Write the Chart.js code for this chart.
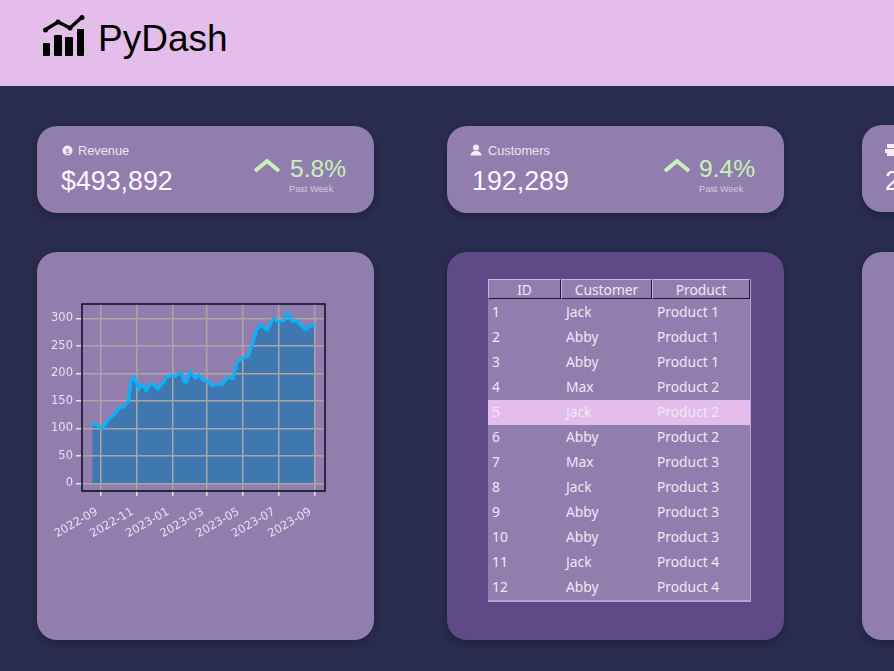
<!DOCTYPE html>
<html>
<head>
<meta charset="utf-8">
<title>PyDash</title>
<script src="https://cdn.jsdelivr.net/npm/chart.js@4/dist/chart.umd.min.js"></script>
<style>
html, body { margin: 0; padding: 0; width: 894px; height: 671px; overflow: hidden; background: #2a2d4f; font-family: "Liberation Sans", Arial, sans-serif; }
.abs { position: absolute; white-space: nowrap; }
#header { position: absolute; left: 0; top: 0; width: 894px; height: 86px; background: #e5bdeb; }
#title { left: 98px; top: 18px; font-size: 37px; line-height: 42px; color: #000; }
.card { position: absolute; background: #917dae; border-radius: 20px; box-shadow: 0 3px 8px rgba(15, 15, 35, .45); }
.stat-label { font-size: 12.8px; line-height: 14px; color: #eee5f5; }
.stat-value { font-size: 26.8px; line-height: 30px; color: #fbf8ff; }
.stat-change { font-size: 24.6px; line-height: 28px; color: #c9f2b8; }
.stat-note { font-size: 9.2px; line-height: 10px; color: #d8cbe6; }
#chartBox { position: absolute; left: 37px; top: 252px; width: 337px; height: 388px; }
#tableCard { background: #5f4a87; }
#grid { position: absolute; left: 488px; top: 279px; width: 263px; height: 323px; background: #917dae; border-right: 1px solid #b3a4dc; border-bottom: 2px solid #b3a4dc; box-sizing: border-box; font-family: "Noto Sans", sans-serif; font-size: 13.8px; color: #f0e8f6; overflow: hidden; }
.head { position: absolute; top: 0; height: 20px; line-height: 20px; text-align: center; box-sizing: border-box; border-top: 1px solid #c4b6e6; border-left: 1px solid #c4b6e6; border-right: 1px solid #1c1a30; border-bottom: 1px solid #1c1a30; }
.row { position: absolute; left: 0; width: 262px; height: 25px; line-height: 23px; }
.row span { position: absolute; top: 0; }
.row.on { background: #e5bdeb; }
</style>
</head>
<body>
<div id="header"></div>
<svg class="abs" style="left:43px;top:15px" width="42" height="42" viewBox="0 0 42 42">
  <polyline points="2,15 15,7 27,13 39,2" fill="none" stroke="#000" stroke-width="3.4"/>
  <circle cx="2.5" cy="15" r="2.5"/><circle cx="15" cy="7" r="2.5"/><circle cx="27" cy="13" r="2.5"/><circle cx="39" cy="2.5" r="2.5"/>
  <rect x="0" y="28" width="7" height="13" rx="1"/><rect x="11" y="20" width="8" height="21" rx="1"/>
  <rect x="22" y="22" width="8" height="19" rx="1"/><rect x="34" y="14" width="7" height="27" rx="1"/>
</svg>
<div id="title" class="abs">PyDash</div>

<div class="card" style="left:37px;top:126px;width:337px;height:87px"></div>
<svg class="abs" style="left:62px;top:145px" width="11" height="11"><circle cx="5.5" cy="5.5" r="5" fill="#f3edf8"/><text x="5.5" y="8.5" font-size="8" text-anchor="middle" fill="#917dae" font-family="Liberation Sans">$</text></svg>
<div class="abs stat-label" style="left:78px;top:144px">Revenue</div>
<div class="abs stat-value" style="left:61px;top:166px">$493,892</div>
<svg class="abs" style="left:252px;top:157px" width="30" height="18"><polyline points="3,14 15,4 27,14" fill="none" stroke="#c9f2b8" stroke-width="4"/></svg>
<div class="abs stat-change" style="left:290px;top:155px">5.8%</div>
<div class="abs stat-note" style="left:289px;top:184px">Past Week</div>

<div class="card" style="left:447px;top:126px;width:337px;height:87px"></div>
<svg class="abs" style="left:470px;top:144px" width="12" height="12"><circle cx="6" cy="3.5" r="3" fill="#f3edf8"/><path d="M0.5 11.5 C1 7.5 4 7 6 7 C8 7 11 7.5 11.5 11.5 Z" fill="#f3edf8"/></svg>
<div class="abs stat-label" style="left:488px;top:144px">Customers</div>
<div class="abs stat-value" style="left:472px;top:166px">192,289</div>
<svg class="abs" style="left:662px;top:157px" width="30" height="18"><polyline points="3,14 15,4 27,14" fill="none" stroke="#c9f2b8" stroke-width="4"/></svg>
<div class="abs stat-change" style="left:699px;top:155px">9.4%</div>
<div class="abs stat-note" style="left:699px;top:184px">Past Week</div>

<div class="card" style="left:862px;top:125px;width:337px;height:87px"></div>
<svg class="abs" style="left:885px;top:144px" width="9" height="12"><rect x="2" y="0" width="7" height="4" fill="#f3edf8"/><rect x="0" y="5" width="9" height="4" fill="#f3edf8"/><rect x="2" y="9" width="7" height="3" fill="#f3edf8"/></svg>
<div class="abs stat-value" style="left:885px;top:166px">2</div>

<div class="card" style="left:37px;top:252px;width:337px;height:388px"></div>
<div id="chartBox"><canvas id="salesChart"></canvas></div>

<div class="card" id="tableCard" style="left:447px;top:252px;width:337px;height:388px"></div>
<div id="grid"></div>

<div class="card" style="left:862px;top:252px;width:337px;height:388px"></div>

<script>
// values
const dates = [
  '2022-08-17','2022-08-24','2022-08-31','2022-09-06','2022-09-12','2022-09-19','2022-09-27','2022-10-03','2022-10-10',
  '2022-10-18','2022-10-22','2022-10-28','2022-11-04','2022-11-10','2022-11-17','2022-11-24','2022-11-29','2022-12-07',
  '2022-12-14','2022-12-22','2022-12-30','2023-01-05','2023-01-12','2023-01-17','2023-01-21','2023-01-25','2023-02-01',
  '2023-02-09','2023-02-15','2023-02-23','2023-03-03','2023-03-10','2023-03-18','2023-03-27','2023-04-06','2023-04-15',
  '2023-04-21','2023-05-02','2023-05-11','2023-05-18','2023-05-25','2023-06-01','2023-06-12','2023-06-22','2023-07-01',
  '2023-07-11','2023-07-17','2023-07-25','2023-07-31','2023-08-08','2023-08-17','2023-08-24','2023-08-31'
];
const sales = [
  106,107,101,102,114,120,129,138,139,
  149,184,194,170,180,168,180,180,171,
  180,192,196,194,199,199,184,184,203,
  191,197,187,185,177,180,180,193,190,
  220,228,232,254,279,288,278,299,294,
  296,310,294,296,288,279,286,287
];
const xTickLabels = ['2022-09','2022-11','2023-01','2023-03','2023-05','2023-07','2023-09'];
const yTickValues = [0,50,100,150,200,250,300];

const rowIds = [1,2,3,4,5,6,7,8,9,10,11,12];
const customers = ['Jack','Abby','Abby','Max','Jack','Abby','Max','Jack','Abby','Abby','Jack','Abby'];
const products = ['Product 1','Product 1','Product 1','Product 2','Product 2','Product 2','Product 3','Product 3','Product 3','Product 3','Product 4','Product 4'];
const headers = ['ID','Customer','Product'];

// data table
const grid = document.getElementById('grid');
const headCols = [[0,73],[73,91],[164,98]];
const cellLefts = [4,78,169];
grid.innerHTML = headers.map((h,i) =>
  `<div class="head" style="left:${headCols[i][0]}px;width:${headCols[i][1]}px">${h}</div>`).join('') +
  rowIds.map((id,i) =>
  `<div class="row${i === 4 ? ' on' : ''}" style="top:${21 + i * 25}px">` +
  `<span style="left:${cellLefts[0]}px">${id}</span><span style="left:${cellLefts[1]}px">${customers[i]}</span><span style="left:${cellLefts[2]}px">${products[i]}</span></div>`).join('');

// x axis is linear over timestamps, no date adapter in the page
const toMs = s => Date.parse(s.length === 7 ? s + '-01' : s);
const DAY = 86400000;
const fmtMonth = ms => new Date(ms).toISOString().slice(0, 7);
const points = dates.map((d,i) => ({ x: toMs(d), y: sales[i] }));

// fill, then grid, then the line on top
const lineOnTop = {
  id: 'lineOnTop',
  afterDraw(chart) {
    const { ctx, chartArea: a } = chart;
    chart.getDatasetMeta(1).controller.draw();
    ctx.save();
    ctx.strokeStyle = '#14122a';
    ctx.lineWidth = 1.6;
    ctx.strokeRect(a.left, a.top, a.right - a.left, a.bottom - a.top);
    ctx.restore();
  }
};

new Chart(document.getElementById('salesChart'), {
  type: 'line',
  data: {
    datasets: [
      { data: points, borderWidth: 0, pointRadius: 0, fill: 'origin', backgroundColor: '#3f78b0' },
      { data: points, borderColor: '#08b4f8', borderWidth: 3, borderJoinStyle: 'round', borderCapStyle: 'round', pointRadius: 0, fill: false }
    ]
  },
  plugins: [lineOnTop],
  options: {
    responsive: true,
    maintainAspectRatio: false,
    animation: false,
    layout: { padding: { left: 0, top: 52, right: 49, bottom: 0 } },
    plugins: { legend: { display: false }, tooltip: { enabled: false } },
    scales: {
      x: {
        type: 'linear',
        min: toMs('2022-09') - 32.5 * DAY,
        max: toMs('2023-09') + 17.6 * DAY,
        afterBuildTicks: axis => { axis.ticks = xTickLabels.map(l => ({ value: toMs(l) })); },
        afterFit: axis => { axis.height = 149; },
        grid: { color: '#a9a6a8', lineWidth: 1.5, z: 1, tickColor: '#e8e0f0', tickLength: 5 },
        border: { display: false },
        ticks: {
          color: '#e8e0f0',
          font: { family: 'DejaVu Sans', size: 11.5 },
          minRotation: 30, maxRotation: 30, autoSkip: false, padding: 9, labelOffset: -4,
          callback: v => fmtMonth(v)
        }
      },
      y: {
        min: -14,
        max: 326,
        afterBuildTicks: axis => { axis.ticks = yTickValues.map(v => ({ value: v })); },
        afterFit: axis => { axis.width = 45; },
        grid: { color: '#a9a6a8', lineWidth: 1.5, z: 1, tickColor: '#e8e0f0', tickLength: 6 },
        border: { display: false },
        ticks: { color: '#e8e0f0', font: { family: 'DejaVu Sans', size: 11.5 }, padding: 3 }
      }
    }
  }
});
</script>
</body>
</html>
